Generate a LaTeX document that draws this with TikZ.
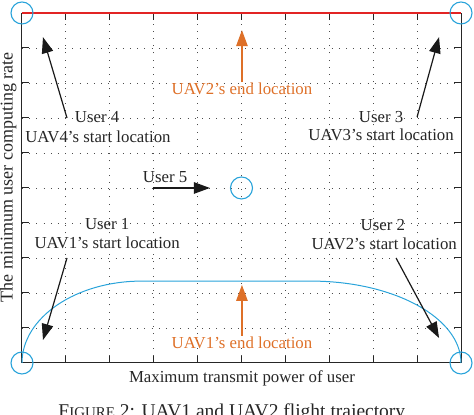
\documentclass[tikz,border=0pt]{standalone}
\usepackage{fontspec}
\setmainfont{Liberation Serif}
\usetikzlibrary{arrows.meta}
\definecolor{uavblue}{RGB}{41,163,218}
\definecolor{uavorange}{RGB}{222,112,40}
\definecolor{uavred}{RGB}{226,36,36}
\tikzset{
    trajectory/.style={
        x=43.9pt, y=35pt,
        spot/.style={circle, draw=uavblue, line width=1.1pt, minimum size=22pt, inner sep=0pt},
        tag/.style={text=black!85, inner sep=1pt},
        endtag/.style={text=uavorange, inner sep=1pt},
        pointer/.style={-{Triangle[length=16pt,width=11.5pt]}, line width=1.2pt, black!90},
        endpointer/.style={pointer, uavorange},
        gridline/.style={black!70, line width=0.9pt, dash pattern=on 0.9pt off 6.3pt},
        axis/.style={black!85, line width=1pt},
    },
}

\begin{document}
\begin{tikzpicture}[trajectory, font=\fontsize{16.8}{20}\selectfont]
    \clip (-0.501,-1.486) rectangle (10.296,10.371);

    \foreach \k in {1,...,9} {
        \draw[gridline] (\k,0) -- (\k,10);
        \draw[gridline] (0,\k) -- (10,\k);
        \draw[axis] (\k,0) -- (\k,0.2)  (\k,10) -- (\k,9.8)
                    (0,\k) -- (0.16,\k) (10,\k) -- (9.84,\k);
    }
    \draw[axis] (0,10) -- (0,0) -- (10,0) -- (10,10);
    \draw[uavred, line width=1.1pt] (0,10) -- (10,10);

    % trajectory of UAV1 and UAV2
    \draw[uavblue, line width=1pt] (0,0)
        arc[start angle=180, end angle=90, x radius=2.73, y radius=2.34]
        -- (6.58,2.34)
        arc[start angle=90, end angle=0, x radius=3.42, y radius=2.34];

    \node[spot] (user1) at (0,0)   {};
    \node[spot] (user2) at (10,0)  {};
    \node[spot] (user3) at (10,10) {};
    \node[spot] (user4) at (0,10)  {};
    \node[spot] (user5) at (5,5)   {};

    \node[tag] (u4) at (1.71,7.03) {User 4};
    \node[tag] (s4) at (1.73,6.46) {UAV4's start location};
    \node[tag] (u3) at (8.18,7.03) {User 3};
    \node[tag] (s3) at (8.18,6.51) {UAV3's start location};
    \node[tag] (u5) at (3.26,5.31) {User 5};
    \node[tag] (u1) at (1.94,3.97) {User 1};
    \node[tag] (s1) at (1.94,3.43) {UAV1's start location};
    \node[tag] (u2) at (8.22,3.94) {User 2};
    \node[tag] (s2) at (8.25,3.40) {UAV2's start location};
    \node[endtag] (e2) at (5.01,7.83) {UAV2's end location};
    \node[endtag] (e1) at (5.01,0.57) {UAV1's end location};

    \node[tag] (xlab) at (5.01,-0.43) {Maximum transmit power of user};
    \node[tag, rotate=90, font=\fontsize{18}{21}\selectfont] (ylab) at (-0.31,5.31)
        {The minimum user computing rate};
    \node[tag, inner sep=0pt, anchor=base] (cap) at (4.78,-1.56)
        {\fontsize{19.5}{22}\selectfont F{\fontsize{15}{17}\selectfont IGURE} 2: UAV1 and UAV2 flight trajectory};

    \coordinate (tail4) at (1.025,7.0);  \coordinate (tip4) at (0.478,9.31);
    \coordinate (tail3) at (9.0,7.03);   \coordinate (tip3) at (9.5,9.31);
    \coordinate (tail5) at (2.98,5.0);   \coordinate (tip5) at (4.28,5.0);
    \coordinate (tail1) at (1.025,3.0);  \coordinate (tip1) at (0.478,0.657);
    \coordinate (tail2) at (8.52,3.0);   \coordinate (tip2) at (9.5,0.714);
    \coordinate (end2) at (5.01,9.51);
    \coordinate (end1) at (5.01,2.23);

    \draw[pointer] (tail4) -- (tip4);
    \draw[pointer] (tail3) -- (tip3);
    \draw[pointer] (tail5) -- (tip5);
    \draw[pointer] (tail1) -- (tip1);
    \draw[pointer] (tail2) -- (tip2);
    \draw[endpointer] (e2.north) -- (end2);
    \draw[endpointer] (e1.north) -- (end1);
\end{tikzpicture}
\end{document}
